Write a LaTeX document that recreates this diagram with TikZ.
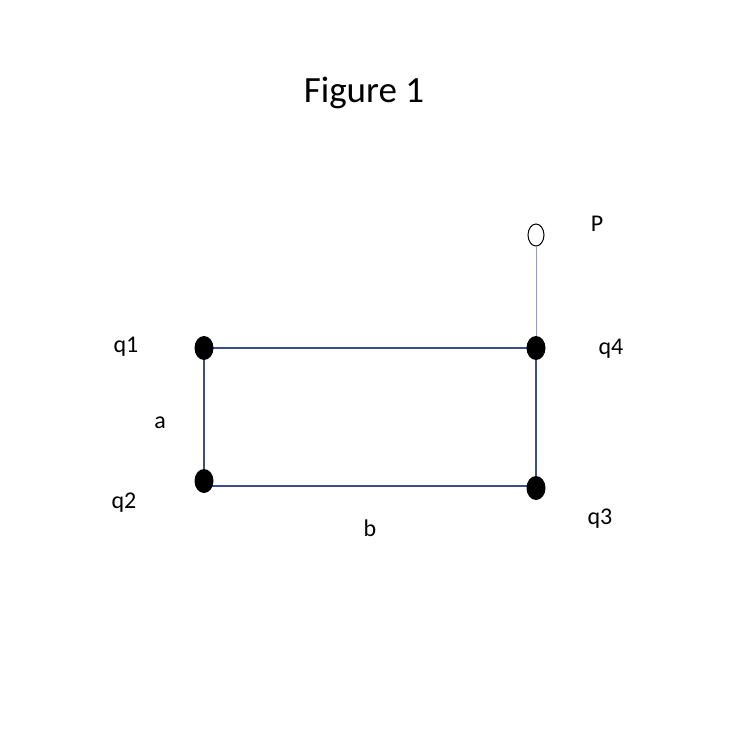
\documentclass[tikz,border=0pt]{standalone}
\usepackage{fontspec}
\setmainfont{Carlito}
\definecolor{edge}{HTML}{3A4F8C}
\definecolor{pedge}{HTML}{8C9CD0}
\begin{document}
\begin{tikzpicture}[x=1pt,y=-1pt,
  charge/.style={ellipse,fill=black,minimum width=19pt,minimum height=24pt,inner sep=0pt},
  probe/.style={ellipse,draw=black,fill=white,line width=1pt,minimum width=16pt,minimum height=22pt,inner sep=0pt},
  lbl/.style={font=\fontsize{24}{28}\selectfont},
  side/.style={draw=edge,line width=1.3pt}]
\usetikzlibrary{shapes.geometric}
\useasboundingbox (0,0) rectangle (756,734);
\node[font=\fontsize{37}{44}\selectfont] (title) at (364,93) {Figure 1};
\coordinate (c1) at (204,348);
\coordinate (c2) at (204,486);
\coordinate (c3) at (536,486);
\coordinate (c4) at (536,348);
\draw[side] (c1) -- (c4) -- (c3) -- (c2) -- cycle;
\node[probe] (p) at (536,235) {};
\draw[draw=pedge,line width=1pt] (p) -- (c4);
\node[charge] (q1) at (204,348) {};
\node[charge] (q2) at (204,481) {};
\node[charge] (q3) at (536,488) {};
\node[charge] (q4) at (536,348) {};
\node[lbl] (l1) at (126,347) {q1};
\node[lbl] (l2) at (124,503) {q2};
\node[lbl] (l3) at (600,519) {q3};
\node[lbl] (l4) at (611,349) {q4};
\node[lbl] (la) at (160,423) {a};
\node[lbl] (lb) at (370,528) {b};
\node[lbl] (lp) at (597,224) {P};
\end{tikzpicture}
\end{document}
